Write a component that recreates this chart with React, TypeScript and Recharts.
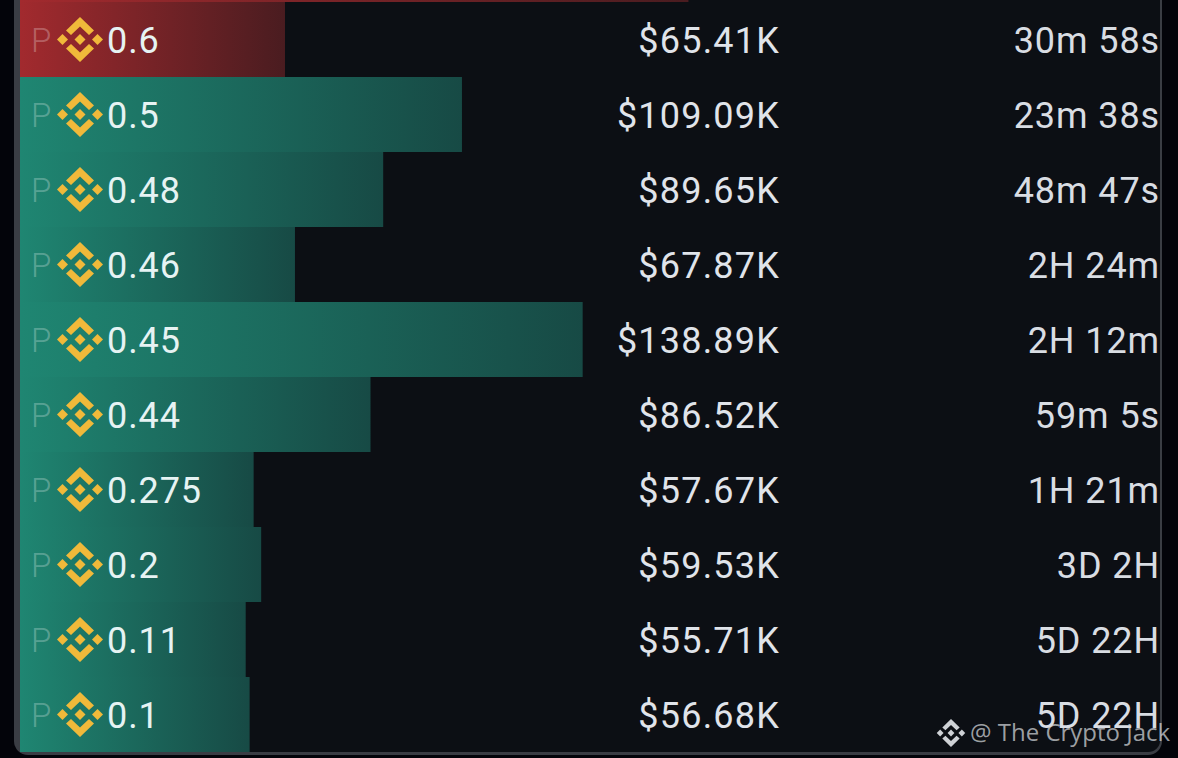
import React from "react";
import { BarChart, Bar, Cell, XAxis, YAxis } from "recharts";

const strikes = ["top", "0.6", "0.5", "0.48", "0.46", "0.45", "0.44", "0.275", "0.2", "0.11", "0.1"];
const volumes = [165, 65.41, 109.09, 89.65, 67.87, 138.89, 86.52, 57.67, 59.53, 55.71, 56.68];
const volumeLabels = ["", "$65.41K", "$109.09K", "$89.65K", "$67.87K", "$138.89K", "$86.52K", "$57.67K", "$59.53K", "$55.71K", "$56.68K"];
const timeLabels = ["", "30m 58s", "23m 38s", "48m 47s", "2H 24m", "2H 12m", "59m 5s", "1H 21m", "3D 2H", "5D 22H", "5D 22H"];
const tones = ["red", "red", "green", "green", "green", "green", "green", "green", "green", "green", "green"];

const rows = strikes.map((strike, i) => ({
  strike,
  volume: volumes[i],
  volumeLabel: volumeLabels[i],
  timeLabel: timeLabels[i],
  tone: tones[i],
}));

const FONT = "Roboto, sans-serif";
const SIZE = 36;
const WEIGHT = 400;
const SPACING = 0.9;

const Logo = ({ fill, s = 1 }: { fill: string; s?: number }) => (
  <g fill={fill} transform={`scale(${s})`}>
    <polygon points="0,-22.5 14,-9 9,-4.5 0,-13 -9,-4.5 -14,-9" />
    <polygon points="0,22.5 14,9 9,4.5 0,13 -9,4.5 -14,9" />
    <polygon points="0,-5.5 5.5,0 0,5.5 -5.5,0" />
    <polygon points="-17.5,-5.5 -12,0 -17.5,5.5 -23,0" />
    <polygon points="17.5,-5.5 23,0 17.5,5.5 12,0" />
  </g>
);

const StrikeTick = ({ x, y, payload }: any) => {
  if (payload.value === "top") return null;
  return (
    <g transform={`translate(${x},${y})`}>
      <text x={19} y={12} fontFamily={FONT} fontWeight={300} fontSize={33} fill="#ffffff" fillOpacity={0.27}>P</text>
      <g transform="translate(68,0)"><Logo fill="#f0b93a" /></g>
      <text x={95} y={13} fontFamily={FONT} fontWeight={WEIGHT} fontSize={SIZE} fill="#e6f3f3" letterSpacing={SPACING}>{payload.value}</text>
    </g>
  );
};

const VolumeTick = ({ x, y, payload }: any) => (
  <text x={x - 8} y={y + 13} textAnchor="end" fontFamily={FONT} fontWeight={WEIGHT} fontSize={SIZE} fill="#e0e4ea" letterSpacing={1.2}>{payload.value}</text>
);

const TimeTick = ({ x, y, payload }: any) => (
  <text x={x + 371} y={y + 13} textAnchor="end" fontFamily={FONT} fontWeight={WEIGHT} fontSize={SIZE} fill="#d9dde3" letterSpacing={SPACING}>{payload.value}</text>
);

export default function App() {
  return (
    <div style={{ position: "fixed", left: 0, top: 0, width: 1178, height: 758, overflow: "hidden", background: "#03040a" }}>
      <div style={{ position: "absolute", left: 14, top: -20, width: 1140, height: 772, background: "#0c0f14", borderStyle: "solid", borderColor: "#3a3d44", borderWidth: "0 2px 3px 6px", borderBottomLeftRadius: 14, borderBottomRightRadius: 14 }} />
      <div style={{ position: "absolute", left: 0, top: -73 }}>
        <BarChart width={1178} height={825} data={rows} layout="vertical" margin={{ top: 0, right: 0, bottom: 0, left: 0 }} barCategoryGap={0}>
          <defs>
            <linearGradient id="greenFade" x1="0" y1="0" x2="1" y2="0">
              <stop offset="0%" stopColor="#1f8672" />
              <stop offset="100%" stopColor="#174a45" />
            </linearGradient>
            <linearGradient id="redFade" x1="0" y1="0" x2="1" y2="0">
              <stop offset="0%" stopColor="#a22a2e" />
              <stop offset="100%" stopColor="#4a1c20" />
            </linearGradient>
          </defs>
          <XAxis type="number" hide domain={[0, 187.6]} />
          <YAxis yAxisId="strike" type="category" dataKey="strike" width={20} axisLine={false} tickLine={false} tick={<StrikeTick />} interval={0} />
          <YAxis yAxisId="amount" orientation="right" type="category" dataKey="volumeLabel" width={1} axisLine={false} tickLine={false} tick={<VolumeTick />} interval={0} />
          <YAxis yAxisId="time" orientation="right" type="category" dataKey="timeLabel" width={397} axisLine={false} tickLine={false} tick={<TimeTick />} interval={0} />
          <Bar yAxisId="strike" dataKey="volume" isAnimationActive={false}>
            {rows.map((r) => (
              <Cell key={r.strike} fill={r.tone === "red" ? "url(#redFade)" : "url(#greenFade)"} />
            ))}
          </Bar>
        </BarChart>
      </div>
      <svg width={260} height={50} style={{ position: "absolute", left: 925, top: 708 }}>
        <g transform="translate(26,25)"><Logo fill="#cfd2d6" s={0.62} /></g>
        <text x={45} y={33} fontFamily="'Open Sans', sans-serif" fontSize={24} fill="#d5d8dc" fillOpacity={0.72}>@ The Crypto Jack</text>
      </svg>
    </div>
  );
}
